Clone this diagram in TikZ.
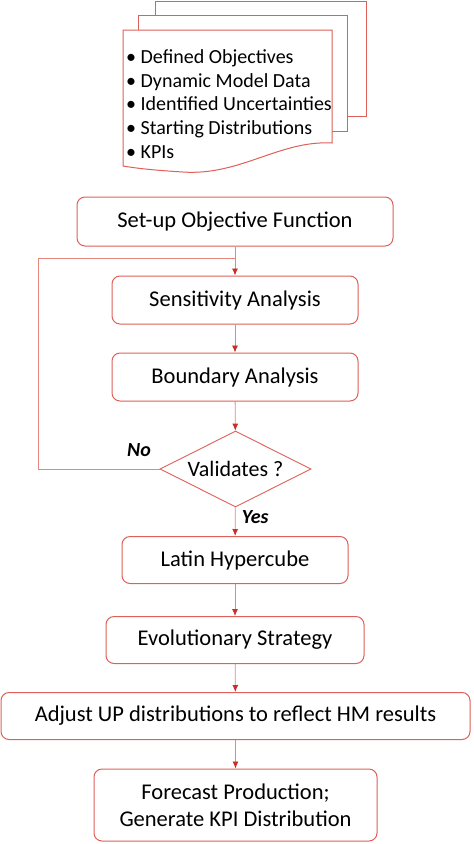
\documentclass[tikz,border=0pt]{standalone}
\usepackage{fontspec}
\setmainfont{Carlito}
\usetikzlibrary{shapes.geometric, arrows.meta}

\definecolor{boxred}{RGB}{222,96,88}
\definecolor{linered}{RGB}{230,135,125}
\definecolor{tipred}{RGB}{205,45,40}

\tikzset{
	procbox/.style={draw=boxred, line width=1pt, rounded corners=8pt, fill=white, inner sep=0pt,
		font=\fontsize{22.5}{27}\selectfont, align=center},
	decbox/.style={draw=boxred, line width=0.9pt, diamond, aspect=2, inner sep=0pt,
		minimum width=151pt, minimum height=76pt, font=\fontsize{22}{26}\selectfont},
	flow/.style={draw=linered, line width=0.8pt, -{Latex[length=7pt, width=6pt, color=tipred]}},
	loopline/.style={draw=linered, line width=0.8pt},
	answer/.style={font=\fontsize{20}{24}\selectfont\bfseries\itshape}
}

\begin{document}
\begin{tikzpicture}[x=1pt, y=1pt]
		\useasboundingbox (0,0) rectangle (474,-844);

		% stacked input pages
		\draw [draw=boxred, line width=1pt, fill=white] (155,-1) rectangle (366,-116);
		\draw [draw=boxred, line width=1pt, fill=white] (138,-15) rectangle (347,-131);
		\draw [draw=boxred, line width=1pt, fill=white] (123,-30) -- (332,-30) -- (332,-143)
			.. controls (280,-140) and (240,-176) .. (183,-172)
			.. controls (150,-170) and (135,-168) .. (123,-166) -- cycle;
		\node [anchor=west, inner sep=0pt, align=left, font=\fontsize{20}{23.75}\selectfont] (inputs) at (126,-104)
			{• Defined Objectives\\• Dynamic Model Data\\• Identified Uncertainties\\• Starting Distributions\\• KPIs};

		\node [procbox, minimum width=316pt, minimum height=49pt] (setup) at (235,-221.5) {Set-up Objective Function};
		\node [procbox, minimum width=246pt, minimum height=48pt] (sens) at (235,-300) {Sensitivity Analysis};
		\node [procbox, minimum width=246pt, minimum height=48pt] (bound) at (235,-377) {Boundary Analysis};
		\node [decbox] (val) at (235.5,-469) {Validates ?};
		\node [procbox, minimum width=226pt, minimum height=47pt] (latin) at (235,-560) {Latin Hypercube};
		\node [procbox, minimum width=258pt, minimum height=47pt] (evol) at (235,-640) {Evolutionary Strategy};
		\node [procbox, minimum width=469pt, minimum height=47pt] (adjust) at (235.5,-716) {Adjust UP distributions to reflect HM results};
		\node [procbox, minimum width=283pt, minimum height=72pt] (fore) at (235.5,-805) {Forecast Production;\\Generate KPI Distribution};

		\coordinate (join) at (235,-258);
		\coordinate (loopc) at (38,-258);

		\draw [flow] (setup) -- (sens);
		\draw [flow] (sens) -- (bound);
		\draw [flow] (bound) -- (val);
		\draw [flow] (val) -- (latin) node[answer, pos=0.35, right=3pt] {Yes};
		\draw [flow] (latin) -- (evol);
		\draw [flow] (evol) -- (adjust);
		\draw [flow] (adjust) -- (fore);
		\draw [loopline] (val.west) -| (loopc) -- (join);
		\node [answer] (no) at (139,-450) {No};
	\end{tikzpicture}
\end{document}
